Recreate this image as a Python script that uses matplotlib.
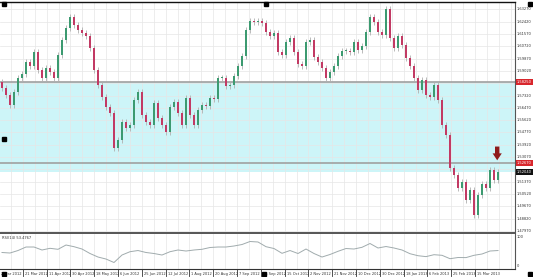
import matplotlib
matplotlib.use("Agg")
import matplotlib.pyplot as plt
from matplotlib.patches import Polygon
import numpy as np

# daily closes (one candle per ~2 sessions)
closes = [1.5784, 1.5736, 1.5667, 1.5756, 1.5853, 1.5881, 1.5963, 1.5936, 1.6032, 1.5908,
          1.5853, 1.5922, 1.5894, 1.5853, 1.6012, 1.6115, 1.6198, 1.6274, 1.6219, 1.6184,
          1.6163, 1.6143, 1.6060, 1.5908, 1.5805, 1.5722, 1.5653, 1.5612, 1.5370, 1.5425,
          1.5549, 1.5508, 1.5529, 1.5701, 1.5756, 1.5598, 1.5549, 1.5529, 1.5680, 1.5577,
          1.5529, 1.5480, 1.5653, 1.5687, 1.5612, 1.5529, 1.5715, 1.5598, 1.5529, 1.5632,
          1.5667, 1.5660, 1.5715, 1.5708, 1.5853, 1.5853, 1.5798, 1.5805, 1.5867, 1.5936,
          1.6005, 1.6184, 1.6246, 1.6239, 1.6246, 1.6232, 1.6170, 1.6143, 1.6163, 1.6032,
          1.6012, 1.6101, 1.6129, 1.6032, 1.5950, 1.5936, 1.6101, 1.6115, 1.5998, 1.5963,
          1.5922, 1.5853, 1.5894, 1.5936, 1.6005, 1.6039, 1.6039, 1.6032, 1.6101, 1.6046,
          1.6074, 1.6170, 1.6274, 1.6239, 1.6170, 1.6150, 1.6329, 1.6129, 1.6060, 1.6143,
          1.6081, 1.5991, 1.5936, 1.5853, 1.5770, 1.5839, 1.5736, 1.5722, 1.5805, 1.5701,
          1.5529, 1.5460, 1.5232, 1.5184, 1.5094, 1.5135, 1.5011, 1.5080, 1.4908, 1.5046,
          1.5122, 1.5094, 1.5218, 1.5149, 1.5204]
first_open = 1.5825

# RSI(14), one value every second candle
rsi = [46.6, 44.8, 53.4, 65.5, 65.5, 55.2, 61.0, 57.6, 72.4, 66.6, 58.6, 43.1, 31.0,
       24.1, 12.1, 37.9, 49.3, 53.4, 46.6, 43.1, 37.9, 49.3, 55.2, 51.7, 55.2, 57.6,
       63.8, 65.5, 65.5, 69.0, 74.1, 84.5, 82.8, 66.6, 60.3, 43.8, 53.4, 43.1, 58.6,
       43.1, 31.0, 39.7, 50.7, 60.3, 58.6, 64.5, 77.6, 62.1, 67.2, 62.1, 55.2, 42.4,
       35.5, 32.4, 39.0, 36.9, 25.2, 29.3, 29.0, 36.9, 41.4, 51.7, 53.4]

price_ticks = [1.47970, 1.48820, 1.49670, 1.50520, 1.51370, 1.52220, 1.53070, 1.53920,
               1.54770, 1.55620, 1.56470, 1.57320, 1.58170, 1.59020, 1.59870, 1.60720,
               1.61570, 1.62420, 1.63270]
date_labels = ["2 Mar 2012", "21 Mar 2012", "11 Apr 2012", "30 Apr 2012", "18 May 2012",
               "6 Jun 2012", "25 Jun 2012", "12 Jul 2012", "1 Aug 2012", "20 Aug 2012",
               "7 Sep 2012", "26 Sep 2012", "15 Oct 2012", "2 Nov 2012", "21 Nov 2012",
               "10 Dec 2012", "30 Dec 2012", "18 Jan 2013", "6 Feb 2013", "25 Feb 2013",
               "15 Mar 2013"]

resistance = 1.5825
support = 1.5267
last_price = closes[-1]

W, H = 533, 277
fig = plt.figure(figsize=(W / 100, H / 100), dpi=100)
fig.patch.set_facecolor("white")

ax = fig.add_axes([0, (H - 232) / H, 515 / W, 230 / H])
ax_rsi = fig.add_axes([0, 8 / H, 515 / W, 36 / H])

xmin, xmax = -0.5, 128.25
grid_c = "#e6e6e6"
fs = 2.6

# main panel
ax.set_xlim(xmin, xmax)
ax.set_ylim(1.47904, 1.63774)
ax.axhspan(last_price, resistance, color="#cdf5f8", zorder=0, lw=0)
for p in price_ticks:
    ax.axhline(p, color=grid_c, lw=0.5, zorder=0.5)

tick_pos = [-0.75 + 5.95 * k for k in range(len(date_labels))]
minor_pos = [-0.75 + 2.975 * m for m in range(45)]
for xp in minor_pos:
    ax.axvline(xp, color=grid_c, lw=0.5, zorder=0.5)
    ax_rsi.axvline(xp, color=grid_c, lw=0.5, zorder=0.5)

ax.axhline(resistance, color="#a0a0a0", lw=1.2, zorder=1)
ax.axhline(support, color="#a0a0a0", lw=1.2, zorder=1)

n = len(closes)
idx = np.arange(n)
opens = np.array([first_open] + closes[:-1])
cl = np.array(closes)
up = cl >= opens
top = np.maximum(opens, cl)
bot = np.minimum(opens, cl)
wick = 0.0018
ax.vlines(idx, bot - wick, top + wick, color="#b0b0b0", lw=0.6, zorder=2)
body = np.maximum(top - bot, 0.0004)
ax.bar(idx[up], body[up], bottom=bot[up], width=0.42, color="#3c9a70", lw=0, zorder=3)
ax.bar(idx[~up], body[~up], bottom=bot[~up], width=0.42, color="#c23a64", lw=0, zorder=3)

# block arrow above the last candles
cx, a_top, a_neck, a_tip = 123.8, 1.5380, 1.5333, 1.5285
arrow = Polygon([(cx - 0.55, a_top), (cx + 0.55, a_top), (cx + 0.55, a_neck),
                 (cx + 1.15, a_neck), (cx, a_tip), (cx - 1.15, a_neck), (cx - 0.55, a_neck)],
                closed=True, facecolor="#8e1b1b", edgecolor="none", zorder=5)
ax.add_patch(arrow)

ax.set_xticks([])
ax.set_yticks([])
for s in ["left", "bottom"]:
    ax.spines[s].set_visible(False)
ax.spines["top"].set_color("#111111")
ax.spines["top"].set_linewidth(1.0)
ax.spines["right"].set_color("#555555")
ax.spines["right"].set_linewidth(0.8)

for p in price_ticks:
    if abs(p - resistance) < 0.004 or abs(p - last_price) < 0.004:
        continue
    ax.text(1.004, p, "%.5f" % p, transform=ax.get_yaxis_transform(), fontsize=fs,
            color="#333333", va="center", ha="left", clip_on=False)
ax.text(1.004, resistance, "%.5f" % resistance, transform=ax.get_yaxis_transform(),
        fontsize=fs, color="white", va="center", ha="left", clip_on=False,
        bbox=dict(facecolor="#d8262c", edgecolor="none", pad=0.6))
ax.text(1.004, support, "%.5f" % support, transform=ax.get_yaxis_transform(),
        fontsize=fs, color="white", va="center", ha="left", clip_on=False,
        bbox=dict(facecolor="#d8262c", edgecolor="none", pad=0.6))
ax.text(1.004, last_price, "%.5f" % last_price, transform=ax.get_yaxis_transform(),
        fontsize=fs, color="white", va="center", ha="left", clip_on=False,
        bbox=dict(facecolor="#111111", edgecolor="none", pad=0.6))

# RSI panel
ax_rsi.set_xlim(xmin, xmax)
ax_rsi.set_ylim(-10.3, 113.8)
ax_rsi.plot(np.arange(len(rsi)) * 2, rsi, color="#a0abad", lw=0.7, zorder=2)
ax_rsi.set_xticks([])
ax_rsi.set_yticks([])
ax_rsi.spines["left"].set_visible(False)
ax_rsi.spines["top"].set_color("#555555")
ax_rsi.spines["top"].set_linewidth(1.4)
ax_rsi.spines["right"].set_color("#555555")
ax_rsi.spines["right"].set_linewidth(0.8)
ax_rsi.spines["bottom"].set_color("#333333")
ax_rsi.spines["bottom"].set_linewidth(0.8)
ax_rsi.text(0.003, 0.93, "RSI(14) 53.4767", transform=ax_rsi.transAxes, fontsize=fs,
            color="#333333", va="top", ha="left")
ax_rsi.text(1.004, 100, "100", transform=ax_rsi.get_yaxis_transform(), fontsize=fs,
            color="#333333", va="center", ha="left", clip_on=False)
ax_rsi.text(1.004, 0, "0", transform=ax_rsi.get_yaxis_transform(), fontsize=fs,
            color="#333333", va="center", ha="left", clip_on=False)

for xp, lab in zip(tick_pos, date_labels):
    ax_rsi.plot([xp, xp], [-0.2, 0.0], transform=ax_rsi.get_xaxis_transform(),
                color="#333333", lw=0.6, clip_on=False)
    ax_rsi.text(xp + 0.5, -0.08, lab, transform=ax_rsi.get_xaxis_transform(),
                fontsize=fs, color="#333333", va="top", ha="left", clip_on=False)

# editor selection handles
for hx, hy in [(2, 2), (264, 2), (528, 2), (2, 137), (2, 272), (262, 272), (528, 272)]:
    fig.patches.append(plt.Rectangle((hx / W, 1 - (hy + 4) / H), 4 / W, 4 / H,
                                     transform=fig.transFigure, color="black", zorder=10))

fig.savefig("out.png", dpi=100)
